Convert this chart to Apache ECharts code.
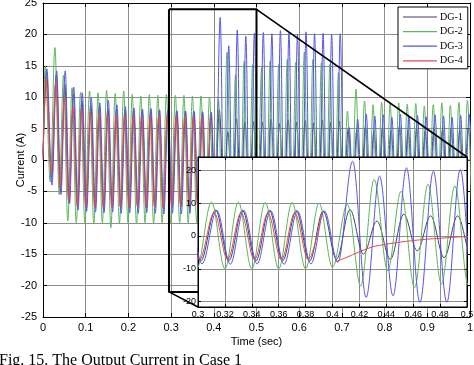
<!DOCTYPE html>
<html><head><meta charset="utf-8">
<script src="https://cdn.jsdelivr.net/npm/echarts@6/dist/echarts.min.js"></script>
<style>html,body{margin:0;padding:0;background:#fff}#c{width:474px;height:365px}</style>
</head><body><div id="c"></div>
<script>
// ---------------- data ----------------
const seriesNames = ['DG-1', 'DG-2', 'DG-3', 'DG-4'];
const seriesColors = ['#43436c', '#5cb65c', '#5656e6', '#e64c4c'];
const eventCycle = 20; // first cycle after the switching event (~0.405 s)

// times (s) of the DG-1 maxima and minima of each 50 Hz cycle
const peakTimes = [0.008, 0.031, 0.051, 0.071, 0.091, 0.112, 0.132, 0.152, 0.172, 0.192,
  0.212, 0.232, 0.252, 0.272, 0.292, 0.313, 0.333, 0.353, 0.373, 0.393,
  0.413, 0.433, 0.453, 0.473, 0.493, 0.514, 0.534, 0.554, 0.574, 0.594,
  0.614, 0.634, 0.654, 0.674, 0.694, 0.715, 0.735, 0.755, 0.775, 0.795,
  0.815, 0.835, 0.855, 0.875, 0.895, 0.916, 0.936, 0.956, 0.976, 0.996];
const troughTimes = [0.020, 0.041, 0.061, 0.081, 0.101, 0.122, 0.142, 0.162, 0.182, 0.202,
  0.222, 0.242, 0.262, 0.282, 0.302, 0.323, 0.343, 0.363, 0.383, 0.403,
  0.423, 0.443, 0.463, 0.483, 0.503, 0.524, 0.544, 0.564, 0.584, 0.604,
  0.624, 0.644, 0.664, 0.684, 0.704, 0.725, 0.745, 0.765, 0.785, 0.805,
  0.825, 0.845, 0.865, 0.885, 0.905, 0.926, 0.946, 0.966, 0.986, 1.006];

// value at t = 0 for each DG
const startValues = [0.5, 1.0, 1.0, 0.0];

// phase shift of each DG against DG-1 (s): [before event, after event]
const dg1Lag = [0, 0];
const dg2Lag = [-0.003, -0.002];
const dg3Lag = [0.001, 0.002];
const dg4Lag = [-0.001, -0.001];

// cycle maxima / minima (A)
const dg1Peaks = [14.0, 13.5, 12.1, 10.5, 9.5, 8.8, 8.5, 8.2, 8.1, 8.0, 8.0, 7.9, 8.0, 7.9, 7.9, 7.9, 7.8, 7.8, 7.7, 7.6,
  8.0, 4.5, 6.6, 6.1, 6.1,
  6.0, 6.5, 5.8, 6.4, 6.0, 6.3, 5.9, 6.4, 6.0, 6.2,
  5.0, 4.8, 5.2, 4.6, 5.0, 4.7, 5.3, 4.8, 5.0, 4.6, 5.2, 4.9, 5.0, 4.7, 5.1];
const dg1Troughs = [-3.0, -5.0, -6.8, -7.3, -7.6, -7.6, -7.7, -7.6, -7.7, -7.6, -7.7, -7.6, -7.6, -7.7, -7.6, -7.5, -7.6, -7.5, -7.6, -7.1,
  -5.5, -7.1, -4.5, -6.6, -5.5,
  -6.5, -5.0, -6.8, -5.2, -6.5, -5.0, -6.8, -5.5, -6.5, -5.5,
  -5.0, -4.8, -5.2, -4.6, -5.0, -4.7, -5.3, -4.8, -5.0, -4.6, -5.2, -4.9, -5.0, -4.7, -5.1];

const dg2Peaks = [15.0, 17.9, 13.5, 11.5, 10.8, 11.0, 10.7, 11.1, 10.6, 11.0, 10.5, 10.2, 10.4, 10.3, 10.4, 10.3, 10.3, 10.2, 10.2, 10.0,
  9.6, 17.2, 13.6, 15.7, 15.2,
  14.7, 15.8, 15.2, 16.0, 15.6, 17.2, 16.0, 15.5, 15.3, 14.0,
  7.8, 11.3, 9.4, 8.8, 9.2, 9.0, 9.1, 8.9, 9.0, 8.6, 8.8, 9.1, 8.7, 9.2, 9.5];
const dg2Troughs = [-3.5, -5.5, -9.7, -10.0, -10.0, -10.2, -10.0, -10.8, -10.1, -10.0, -10.2, -10.0, -10.1, -10.0, -10.0, -10.0, -10.0, -10.0, -10.0, -9.5,
  -15.2, -10.6, -15.7, -14.6, -15.0,
  -14.5, -15.2, -14.8, -15.0, -14.6, -15.3, -14.8, -15.0, -14.5, -12.0,
  -9.0, -9.2, -8.8, -9.1, -9.0, -8.9, -9.2, -9.0, -8.8, -9.1, -9.0, -9.2, -8.9, -9.0, -9.1];

const dg3Peaks = [14.5, 14.2, 14.2, 11.6, 10.7, 9.9, 9.1, 9.5, 8.8, 8.5, 8.3, 8.1, 8.2, 8.0, 8.0, 7.8, 7.8, 7.7, 7.6, 7.6,
  22.7, 18.2, 20.7, 19.7, 20.2,
  20.3, 20.1, 20.6, 20.2, 20.0, 20.4, 20.1, 20.2, 20.0, 20.1,
  5.2, 6.5, 7.3, 7.0, 7.2, 6.8, 7.3, 7.0, 7.1, 6.9, 7.2, 7.0, 6.8, 7.1, 7.3];
const dg3Troughs = [-4.0, -5.5, -7.0, -8.0, -8.2, -8.3, -8.4, -8.3, -8.5, -8.4, -8.5, -8.4, -8.5, -8.6, -8.5, -8.6, -8.5, -8.6, -8.5, -8.0,
  -18.7, -18.2, -20.2, -20.2, -20.0,
  -20.0, -20.2, -19.8, -20.1, -20.0, -20.2, -19.9, -20.1, -20.0, -12.0,
  -7.0, -7.2, -6.8, -7.1, -7.0, -6.9, -7.2, -7.0, -6.8, -7.1, -7.0, -7.2, -6.9, -7.0, -7.1];

// DG-4 oscillates until the event, then decays to zero
const dg4Peaks = [13.0, 12.5, 10.0, 8.5, 8.0, 7.5, 7.4, 7.3, 7.2, 7.2, 7.1, 7.0, 7.1, 7.0, 7.0, 7.0, 7.0, 6.9, 7.0, 6.9];
const dg4Troughs = [-2.0, -4.5, -6.5, -7.3, -7.4, -7.5, -7.4, -7.5, -7.4, -7.5, -7.4, -7.5, -7.4, -7.5, -7.3, -7.2, -7.2, -7.3, -7.2];
const dg4DecayTimes = [0.402, 0.41, 0.42, 0.43, 0.44, 0.45, 0.46, 0.47, 0.48, 0.49, 0.50, 0.55, 0.60, 1.0];
const dg4DecayValues = [-7.9, -6.6, -4.8, -3.3, -2.5, -1.9, -1.4, -1.0, -0.7, -0.4, -0.2, 0.0, 0.0, 0.0];

// axes
const mainTimeRange = [0, 1];
const mainCurrentRange = [-25, 25];
const insetTimeRange = [0.3, 0.5];
const insetCurrentRange = [-21.6, 24];
const insetCurrentTicks = [-20, -10, 0, 10, 20];
const zoomBoxTimes = [0.295, 0.5];
const zoomBoxCurrents = [-21, 24];
const captionText = 'Fig. 15. The Output Current in Case 1';

// ---------------- build series ----------------
function oscillation(start, peaks, troughs, lag) {
  const d = [[0, start]];
  for (let k = 0; k < peaks.length; k++) {
    const l = k < eventCycle ? lag[0] : lag[1];
    d.push([peakTimes[k] + l, peaks[k]]);
    if (k < troughs.length) d.push([troughTimes[k] + l, troughs[k]]);
  }
  return d;
}
const osc = [
  oscillation(startValues[0], dg1Peaks, dg1Troughs, dg1Lag),
  oscillation(startValues[1], dg2Peaks, dg2Troughs, dg2Lag),
  oscillation(startValues[2], dg3Peaks, dg3Troughs, dg3Lag),
  oscillation(startValues[3], dg4Peaks, dg4Troughs, dg4Lag)
];
const dg4Decay = dg4DecayTimes.map((t, i) => [t, dg4DecayValues[i]]);

function lineSeries(name, data, xi, yi, zl, z, smoothMode) {
  const idx = seriesNames.indexOf(name);
  return {
    type: 'line', name, data, xAxisIndex: xi, yAxisIndex: yi,
    zlevel: zl, z, symbol: 'none', showSymbol: false,
    smooth: smoothMode ? 0.35 : 0.3,
    smoothMonotone: smoothMode ? 'x' : undefined,
    lineStyle: { color: seriesColors[idx], width: 1 },
    itemStyle: { color: seriesColors[idx] },
    silent: true
  };
}
const series = [];
[[0, 0, 0, 2], [2, 2, 1, 2]].forEach(([xi, yi, zl, z]) => {
  seriesNames.forEach((n, i) => series.push(lineSeries(n, osc[i], xi, yi, zl, z, true)));
  series.push(lineSeries('DG-4', dg4Decay, xi, yi, zl, z, false));
});
series.push({
  type: 'line', name: 'zoom', xAxisIndex: 0, yAxisIndex: 0, z: 3, symbol: 'none', silent: true, clip: false,
  data: [[zoomBoxTimes[0], zoomBoxCurrents[1]], [zoomBoxTimes[1], zoomBoxCurrents[1]], [zoomBoxTimes[1], zoomBoxCurrents[0]],
         [zoomBoxTimes[0], zoomBoxCurrents[0]], [zoomBoxTimes[0], zoomBoxCurrents[1]]],
  lineStyle: { color: '#000', width: 2 }
});

const gridLine = { show: true, lineStyle: { color: '#8e8e8e', width: 1 } };
const blackLine = { show: true, onZero: false, lineStyle: { color: '#000', width: 1 } };
const font = 'Liberation Sans';

const option = {
  animation: false,
  backgroundColor: '#fff',
  textStyle: { fontFamily: font },
  grid: [
    { left: 43, right: 4, top: 3, bottom: 48, outerBoundsMode: 'none', containLabel: false },
    { left: 198, right: 7, top: 157, bottom: 58, outerBoundsMode: 'none', containLabel: false,
      show: true, backgroundColor: '#fff', borderColor: '#000', borderWidth: 1, zlevel: 1, z: 0 }
  ],
  xAxis: [
    { gridIndex: 0, type: 'value', position: 'bottom', min: mainTimeRange[0], max: mainTimeRange[1], interval: 0.1,
      axisLine: blackLine, axisTick: { show: true, inside: true, length: 4, lineStyle: { color: '#000' } },
      axisLabel: { color: '#000', fontSize: 11, margin: 5, fontFamily: font }, splitLine: gridLine,
      name: 'Time (sec)', nameLocation: 'middle', nameGap: 19, nameMoveOverlap: false,
      nameTextStyle: { color: '#000', fontSize: 11, fontFamily: font } },
    { gridIndex: 0, type: 'value', position: 'top', min: mainTimeRange[0], max: mainTimeRange[1], interval: 0.1,
      axisLine: blackLine, axisTick: { show: true, inside: true, length: 4, lineStyle: { color: '#000' } },
      axisLabel: { show: false }, splitLine: { show: false } },
    { gridIndex: 1, type: 'value', position: 'bottom', min: insetTimeRange[0], max: insetTimeRange[1], interval: 0.02, zlevel: 1, z: 1,
      axisLine: blackLine, axisTick: { show: true, inside: true, length: 3, lineStyle: { color: '#000' } },
      axisLabel: { color: '#000', fontSize: 9, margin: 3, fontFamily: font }, splitLine: gridLine },
    { gridIndex: 1, type: 'value', position: 'top', min: insetTimeRange[0], max: insetTimeRange[1], interval: 0.02, zlevel: 1, z: 1,
      axisLine: blackLine, axisTick: { show: true, inside: true, length: 3, lineStyle: { color: '#000' } },
      axisLabel: { show: false }, splitLine: { show: false } }
  ],
  yAxis: [
    { gridIndex: 0, type: 'value', position: 'left', min: mainCurrentRange[0], max: mainCurrentRange[1], interval: 5,
      axisLine: blackLine, axisTick: { show: true, inside: true, length: 4, lineStyle: { color: '#000' } },
      axisLabel: { color: '#000', fontSize: 11, margin: 6, fontFamily: font }, splitLine: gridLine,
      name: 'Current (A)', nameLocation: 'middle', nameGap: 17, nameMoveOverlap: false,
      nameTextStyle: { color: '#000', fontSize: 11, fontFamily: font } },
    { gridIndex: 0, type: 'value', position: 'right', min: mainCurrentRange[0], max: mainCurrentRange[1], interval: 5,
      axisLine: blackLine, axisTick: { show: true, inside: true, length: 4, lineStyle: { color: '#000' } },
      axisLabel: { show: false }, splitLine: { show: false } },
    { gridIndex: 1, type: 'value', position: 'left', min: insetCurrentRange[0], max: insetCurrentRange[1], zlevel: 1, z: 1,
      axisLine: blackLine, axisTick: { show: true, inside: true, length: 3, customValues: insetCurrentTicks, lineStyle: { color: '#000' } },
      axisLabel: { color: '#000', fontSize: 9, margin: 2, fontFamily: font, customValues: insetCurrentTicks }, splitLine: gridLine },
    { gridIndex: 1, type: 'value', position: 'right', min: insetCurrentRange[0], max: insetCurrentRange[1], zlevel: 1, z: 1,
      axisLine: blackLine, axisTick: { show: true, inside: true, length: 3, customValues: insetCurrentTicks, lineStyle: { color: '#000' } },
      axisLabel: { show: false }, splitLine: { show: false } }
  ],
  legend: {
    data: seriesNames, orient: 'vertical', left: 398, top: 7, icon: 'rect',
    itemWidth: 34, itemHeight: 1.2, itemGap: 2.6, padding: [4, 5, 2, 5],
    backgroundColor: '#fff', borderColor: '#000', borderWidth: 1, borderRadius: 0,
    textStyle: { fontFamily: 'Liberation Serif', fontSize: 10, lineHeight: 12, color: '#000', padding: [0, 0, 0, -2] },
    selectedMode: false
  },
  series
};

const chart = echarts.init(document.getElementById('c'), null, { renderer: 'canvas' });
chart.setOption(option);

const p1 = chart.convertToPixel({ xAxisIndex: 0, yAxisIndex: 0 }, [zoomBoxTimes[1], zoomBoxCurrents[1]]);
const p2 = chart.convertToPixel({ xAxisIndex: 2, yAxisIndex: 2 }, [insetTimeRange[1], insetCurrentRange[1]]);
const p3 = chart.convertToPixel({ xAxisIndex: 0, yAxisIndex: 0 }, [zoomBoxTimes[0], zoomBoxCurrents[0]]);
const p4 = chart.convertToPixel({ xAxisIndex: 2, yAxisIndex: 2 }, [insetTimeRange[0], insetCurrentRange[0]]);
chart.setOption({
  graphic: [
    { type: 'text', left: -1, top: 353, style: { text: captionText, font: '16px "Liberation Serif"', fill: '#000' } },
    { type: 'line', z: 10, shape: { x1: p1[0], y1: p1[1], x2: p2[0], y2: p2[1] }, style: { stroke: '#000', lineWidth: 1.6 } },
    { type: 'line', z: 10, shape: { x1: p3[0], y1: p3[1], x2: p4[0], y2: p4[1] }, style: { stroke: '#000', lineWidth: 1.6 } }
  ]
});
</script></body></html>
